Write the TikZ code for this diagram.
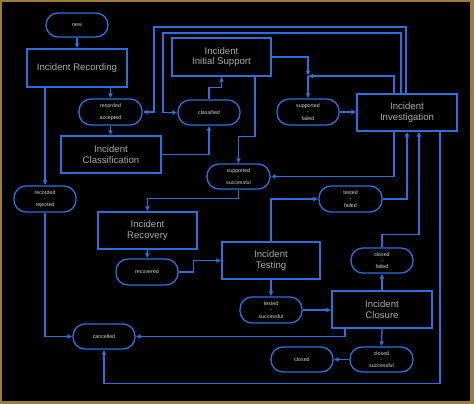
\documentclass[tikz,border=0pt]{standalone}
\usepackage{fontspec}
\setmainfont{Liberation Sans}
\usetikzlibrary{arrows.meta}
\definecolor{edge}{HTML}{2F6FDC}
\definecolor{frame}{HTML}{9C7C3C}
\definecolor{boxtxt}{HTML}{ABABAB}
\definecolor{termtxt}{HTML}{D8D8D8}
\tikzset{
  procbox/.style={draw=edge, line width=1.3pt, rectangle, minimum width=#1, minimum height=37pt, inner sep=0pt, align=center, text=boxtxt, font=\fontsize{9.6}{10.5}\selectfont},
  procbox/.default=100pt,
  term/.style={draw=edge, line width=1.3pt, rectangle, rounded corners=12pt, minimum width=62pt, minimum height=25pt, inner sep=0pt, align=center, text=termtxt, font=\fontsize{5.3}{6.3}\selectfont},
  arr/.style={draw=edge, line width=1.3pt, -{Latex[length=5pt,width=5pt]}},
}
\begin{document}
\begin{tikzpicture}[x=1pt,y=-1pt]
\fill[frame] (0,0) rectangle (474,404);
\fill[black] (2,2) rectangle (470,401);
\useasboundingbox (0,0) rectangle (474,404);

% nodes
\node[term, minimum height=24pt] (new) at (77,25) {new};
\node[procbox, minimum height=38pt] (rec) at (77,68) {Incident Recording};
\node[term, minimum height=26pt, minimum width=63pt] (recacc) at (110.5,112) {recorded\\-\\accepted};
\node[procbox] (cls) at (111,154.5) {Incident\\Classification};
\node[term, minimum height=26pt] (recrej) at (45,199) {recorded\\-\\rejected};
\node[term] (clsd) at (209,112.5) {classified};
\node[procbox=99pt, minimum height=38pt] (sup) at (221.5,57) {Incident\\Initial Support};
\node[term, minimum height=26pt] (supf) at (308,112) {supported\\-\\failed};
\node[procbox] (inv) at (407,112.5) {Incident\\Investigation};
\node[term, minimum width=63pt] (sups) at (238.5,176.5) {supported\\-\\successful};
\node[procbox=99pt] (recov) at (147.5,230.5) {Incident\\Recovery};
\node[term, minimum height=26pt] (recd) at (147,272) {recovered};
\node[procbox=98pt] (test) at (271,260.5) {Incident\\Testing};
\node[term, minimum height=26pt, minimum width=63pt] (testf) at (350.5,199) {tested\\-\\failed};
\node[term, minimum height=26pt] (tests) at (271,310) {tested\\-\\successful};
\node[procbox] (clo) at (382,309.5) {Incident\\Closure};
\node[term] (clof) at (382,260.5) {closed\\-\\failed};
\node[term, minimum width=63pt] (clos) at (381.5,359.5) {closed\\-\\successful};
\node[term] (closed) at (302,359.5) {closed};
\node[term] (canc) at (104,336.5) {cancelled};
\coordinate (j) at (308,76);

% connectors
\draw[arr] (new) -- (rec);
\draw[arr] (recacc.north |- rec.south) -- (recacc.north);
\draw[arr] (recacc.south) -- (recacc.south |- cls.north);
\draw[arr] (recrej.north |- rec.south) -- (recrej.north);
\draw[arr] (cls.east) -| (clsd.south);
\draw[arr] (clsd.north) -- ++(0,-12) -| (sup.south);
\draw[arr] ([xshift=-1pt]inv.north) |- (154,27) |- (recacc.east);
\draw[arr] ([xshift=-6pt]inv.north) |- (163,33) |- (clsd.west);
\draw[arr] (sup.east) -| (j);
\draw[arr] ([xshift=-13pt]inv.north) |- (j);
\draw[arr] (j) -- (supf.north);
\draw[arr] (supf.east) -- (supf.east -| inv.west);
\draw[arr] ([xshift=33.5pt]sup.south) -- ++(0,60) -| (sups.north);
\draw[arr] ([xshift=-13pt]inv.south) |- (sups.east);
\draw[arr] (sups.south) -- ++(0,9) -| (recov.north);
\draw[arr] (recov.south) -- (recd.north);
\draw[arr] (recd.east) -- ++(15,0) |- (test.west);
\draw[arr] (test.north) |- (testf.west);
\draw[arr] (testf.east) -| (inv.south);
\draw[arr] (clof.north) -- ++(0,-13) -| ([xshift=12pt]inv.south);
\draw[arr] (clo.north) -- (clof.south);
\draw[arr] (test.south) -- (tests.north);
\draw[arr] (tests.east) -- (tests.east -| clo.west);
\draw[arr] (clo.south) -- (clos.north);
\draw[arr] (clos.west) -- (closed.east);
\draw[arr] ([xshift=-37pt]clo.south) |- (canc.east);
\draw[arr] (recrej.south) |- (canc.west);
\draw[arr] ([xshift=33pt]inv.south) -- ++(0,252) -| (canc.south);
\end{tikzpicture}
\end{document}
